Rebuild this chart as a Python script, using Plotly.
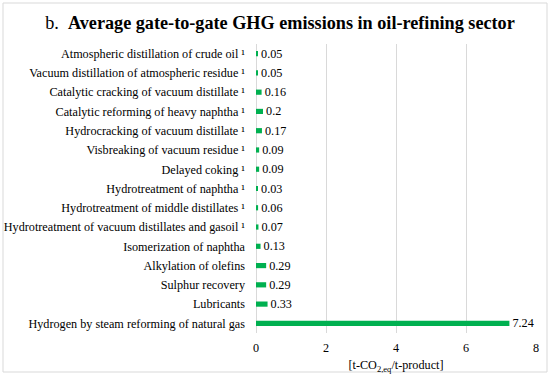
import plotly.graph_objects as go

categories = [
    "Atmospheric distillation of crude oil ¹",
    "Vacuum distillation of atmospheric residue ¹",
    "Catalytic cracking of vacuum distillate ¹",
    "Catalytic reforming of heavy naphtha ¹",
    "Hydrocracking of vacuum distillate ¹",
    "Visbreaking of vacuum residue ¹",
    "Delayed coking ¹",
    "Hydrotreatment of naphtha ¹",
    "Hydrotreatment of middle distillates ¹",
    "Hydrotreatment of vacuum distillates and gasoil ¹",
    "Isomerization of naphtha",
    "Alkylation of olefins",
    "Sulphur recovery",
    "Lubricants",
    "Hydrogen by steam reforming of natural gas",
]
values = [0.05, 0.05, 0.16, 0.2, 0.17, 0.09, 0.09, 0.03, 0.06, 0.07, 0.13, 0.29, 0.29, 0.33, 7.24]
value_labels = ["0.05", "0.05", "0.16", "0.2", "0.17", "0.09", "0.09", "0.03", "0.06", "0.07", "0.13", "0.29", "0.29", "0.33", "7.24"]
x_ticks = [0, 2, 4, 6, 8]

FONT = "Liberation Serif"
FS = 12.2

fig = go.Figure(go.Bar(
    y=categories, x=values, orientation="h",
    marker=dict(color="#00B050", line=dict(width=0)),
    text=["\u00a0" + s for s in value_labels], textposition="outside", cliponaxis=False,
    constraintext="none",
    textfont=dict(family=FONT, size=FS, color="#000000"),
    width=0.27,
))

L, R, T, B = 256, 14, 44, 43
W, H = 550, 376
pw, ph = W - L - R, H - T - B

fig.update_layout(
    width=W, height=H,
    margin=dict(l=L, r=R, t=T, b=B, autoexpand=False),
    paper_bgcolor="white", plot_bgcolor="white",
    showlegend=False,
    font=dict(family=FONT, size=FS, color="#000000"),
    title=dict(
        text="b.  <b>Average gate-to-gate GHG emissions in oil-refining sector</b>",
        x=280 / W, xanchor="center", xref="container",
        y=1 - 23 / H, yanchor="middle", yref="container",
        font=dict(family=FONT, size=18.2, color="#000000"),
    ),
    xaxis=dict(
        range=[0, 8], tickvals=x_ticks, ticktext=[str(t) for t in x_ticks],
        showgrid=True, gridcolor="#D9D9D9", gridwidth=1,
        zeroline=True, zerolinecolor="#D9D9D9", zerolinewidth=1,
        showline=False, ticks="", ticklen=0, automargin=False,
        ticklabelstandoff=6,
        tickfont=dict(family=FONT, size=FS, color="#000000"),
        title=dict(text="[t-CO<sub>2,eq</sub>/t-product]", standoff=6,
                   font=dict(family=FONT, size=FS, color="#000000")),
    ),
    yaxis=dict(
        autorange="reversed", showgrid=False, showline=False, ticks="",
        automargin=False,
        tickfont=dict(family=FONT, size=FS, color="#000000"),
        ticklabelstandoff=10,
    ),
)

fig.add_shape(
    type="rect", xref="paper", yref="paper",
    x0=(3 - L) / pw, x1=(547 - L) / pw,
    y0=(H - B - 372) / ph, y1=(H - B - 3) / ph,
    line=dict(color="#D9D9D9", width=1), fillcolor="rgba(0,0,0,0)", layer="below",
)

fig.write_html(
    "out.html",
    config={"displayModeBar": False},
    post_script="document.body.style.margin='0';document.body.style.padding='0';",
)
